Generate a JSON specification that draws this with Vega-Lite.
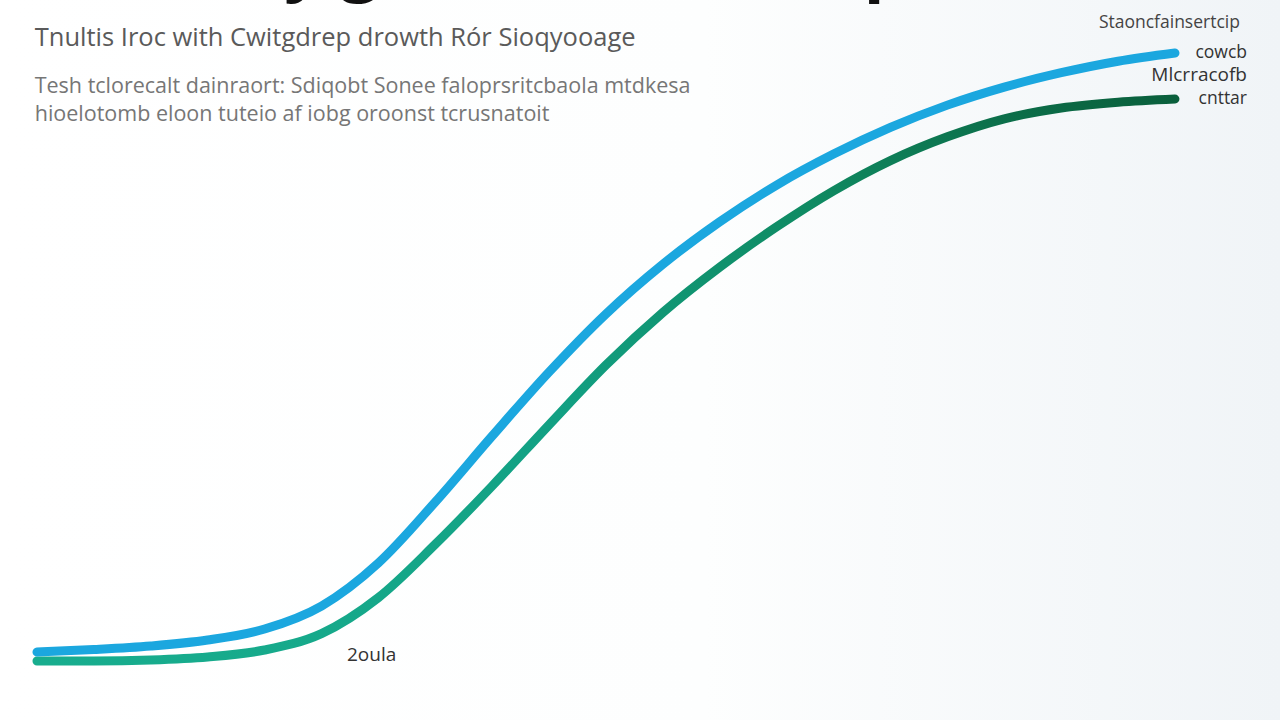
{
  "$schema": "https://vega.github.io/schema/vega-lite/v6.json",
  "width": 1280,
  "height": 720,
  "autosize": {"type": "fit", "contains": "padding"},
  "padding": 0,
  "background": "#ffffff",
  "config": {"view": {"stroke": null}},
  "datasets": {
    "growth": [
      {"series": "cowcb", "t": 0, "v": 9.44},
      {"series": "cowcb", "t": 5, "v": 9.79},
      {"series": "cowcb", "t": 10, "v": 10.28},
      {"series": "cowcb", "t": 15, "v": 11.11},
      {"series": "cowcb", "t": 20, "v": 12.64},
      {"series": "cowcb", "t": 25, "v": 15.83},
      {"series": "cowcb", "t": 30, "v": 21.81},
      {"series": "cowcb", "t": 35, "v": 30.28},
      {"series": "cowcb", "t": 40, "v": 39.44},
      {"series": "cowcb", "t": 45, "v": 48.33},
      {"series": "cowcb", "t": 50, "v": 56.4},
      {"series": "cowcb", "t": 55, "v": 63.3},
      {"series": "cowcb", "t": 60, "v": 69.2},
      {"series": "cowcb", "t": 65, "v": 74.3},
      {"series": "cowcb", "t": 70, "v": 78.6},
      {"series": "cowcb", "t": 75, "v": 82.3},
      {"series": "cowcb", "t": 80, "v": 85.4},
      {"series": "cowcb", "t": 85, "v": 87.9},
      {"series": "cowcb", "t": 90, "v": 89.9},
      {"series": "cowcb", "t": 95, "v": 91.5},
      {"series": "cowcb", "t": 100, "v": 92.64},
      {"series": "cnttar", "t": 0, "v": 8.19},
      {"series": "cnttar", "t": 5, "v": 8.19},
      {"series": "cnttar", "t": 10, "v": 8.33},
      {"series": "cnttar", "t": 15, "v": 8.75},
      {"series": "cnttar", "t": 20, "v": 9.72},
      {"series": "cnttar", "t": 25, "v": 12.0},
      {"series": "cnttar", "t": 30, "v": 17.0},
      {"series": "cnttar", "t": 35, "v": 24.4},
      {"series": "cnttar", "t": 40, "v": 32.5},
      {"series": "cnttar", "t": 45, "v": 41.0},
      {"series": "cnttar", "t": 50, "v": 49.3},
      {"series": "cnttar", "t": 55, "v": 56.6},
      {"series": "cnttar", "t": 60, "v": 62.9},
      {"series": "cnttar", "t": 65, "v": 68.5},
      {"series": "cnttar", "t": 70, "v": 73.5},
      {"series": "cnttar", "t": 75, "v": 77.7},
      {"series": "cnttar", "t": 80, "v": 81.0},
      {"series": "cnttar", "t": 85, "v": 83.5},
      {"series": "cnttar", "t": 90, "v": 85.0},
      {"series": "cnttar", "t": 95, "v": 85.8},
      {"series": "cnttar", "t": 100, "v": 86.25}
    ]
  },
  "layer": [
    {
      "data": {"values": [{"k": 1}]},
      "mark": {"type": "rect", "fill": {"gradient": "linear", "x1": 0, "y1": 0, "x2": 1, "y2": 0, "stops": [{"offset": 0, "color": "#ffffff"}, {"offset": 0.55, "color": "#fdfefe"}, {"offset": 1, "color": "#f0f4f7"}]}},
      "encoding": {
        "x": {"datum": -3.25, "type": "quantitative", "scale": {"domain": [-3.25, 109.23], "nice": false, "zero": false}, "axis": null},
        "x2": {"datum": 109.23},
        "y": {"datum": 0, "type": "quantitative", "scale": {"domain": [0, 100], "nice": false, "zero": false}, "axis": null},
        "y2": {"datum": 100}
      }
    },
    {
      "data": {"name": "growth"},
      "transform": [{"filter": "datum.series === 'cnttar'"}],
      "mark": {"type": "line", "interpolate": "monotone", "strokeWidth": 9, "strokeCap": "round", "stroke": {"gradient": "linear", "x1": 0, "y1": 1, "x2": 1, "y2": 0, "stops": [{"offset": 0, "color": "#18ad8e"}, {"offset": 0.45, "color": "#12a083"}, {"offset": 0.75, "color": "#0f8a62"}, {"offset": 1, "color": "#0a5f3c"}]}},
      "encoding": {
        "x": {"field": "t", "type": "quantitative"},
        "y": {"field": "v", "type": "quantitative"}
      }
    },
    {
      "data": {"name": "growth"},
      "transform": [{"filter": "datum.series === 'cowcb'"}],
      "mark": {"type": "line", "interpolate": "monotone", "strokeWidth": 9, "strokeCap": "round", "stroke": "#1ba7df"},
      "encoding": {
        "x": {"field": "t", "type": "quantitative"},
        "y": {"field": "v", "type": "quantitative"}
      }
    },
    {
      "data": {"values": [{"k": 1}]},
      "mark": {"type": "text", "clip": true, "text": "Steady growth at its top", "align": "left", "baseline": "alphabetic", "font": "Open Sans", "fontSize": 68, "fontWeight": "bold", "fill": "#111111"},
      "encoding": {"x": {"datum": 4.92, "type": "quantitative"}, "y": {"datum": 101.7, "type": "quantitative"}}
    },
    {
      "data": {"values": [{"k": 1}]},
      "mark": {"type": "text", "text": "Tnultis Iroc with Cwitgdrep drowth Rór Sioqyooage", "align": "left", "baseline": "middle", "font": "Open Sans", "fontSize": 25.5, "fill": "#5a5a5a"},
      "encoding": {"x": {"datum": -0.2, "type": "quantitative"}, "y": {"datum": 94.72, "type": "quantitative"}}
    },
    {
      "data": {"values": [{"k": 1}]},
      "mark": {"type": "text", "text": "Tesh tclorecalt dainraort: Sdiqobt Sonee faloprsritcbaola mtdkesa", "align": "left", "baseline": "middle", "font": "Open Sans", "fontSize": 21.5, "fill": "#767676"},
      "encoding": {"x": {"datum": -0.2, "type": "quantitative"}, "y": {"datum": 87.92, "type": "quantitative"}}
    },
    {
      "data": {"values": [{"k": 1}]},
      "mark": {"type": "text", "text": "hioelotomb eloon tuteio af iobg oroonst tcrusnatoit", "align": "left", "baseline": "middle", "font": "Open Sans", "fontSize": 21.5, "fill": "#767676"},
      "encoding": {"x": {"datum": -0.2, "type": "quantitative"}, "y": {"datum": 84.03, "type": "quantitative"}}
    },
    {
      "data": {"values": [{"k": 1}]},
      "mark": {"type": "text", "text": "Staoncfainsertcip", "align": "right", "baseline": "middle", "font": "Open Sans", "fontSize": 17.5, "fill": "#444444"},
      "encoding": {"x": {"datum": 105.71, "type": "quantitative"}, "y": {"datum": 96.81, "type": "quantitative"}}
    },
    {
      "data": {"values": [{"k": 1}]},
      "mark": {"type": "text", "text": "cowcb", "align": "right", "baseline": "middle", "font": "Open Sans", "fontSize": 17.5, "fill": "#333333"},
      "encoding": {"x": {"datum": 106.33, "type": "quantitative"}, "y": {"datum": 92.64, "type": "quantitative"}}
    },
    {
      "data": {"values": [{"k": 1}]},
      "mark": {"type": "text", "text": "Mlcrracofb", "align": "right", "baseline": "middle", "font": "Open Sans", "fontSize": 19, "fill": "#333333"},
      "encoding": {"x": {"datum": 106.33, "type": "quantitative"}, "y": {"datum": 89.58, "type": "quantitative"}}
    },
    {
      "data": {"values": [{"k": 1}]},
      "mark": {"type": "text", "text": "cnttar", "align": "right", "baseline": "middle", "font": "Open Sans", "fontSize": 17.5, "fill": "#333333"},
      "encoding": {"x": {"datum": 106.33, "type": "quantitative"}, "y": {"datum": 86.25, "type": "quantitative"}}
    },
    {
      "data": {"values": [{"k": 1}]},
      "mark": {"type": "text", "text": "2oula", "align": "left", "baseline": "middle", "font": "Open Sans", "fontSize": 19, "fill": "#333333"},
      "encoding": {"x": {"datum": 27.24, "type": "quantitative"}, "y": {"datum": 9.03, "type": "quantitative"}}
    }
  ]
}
